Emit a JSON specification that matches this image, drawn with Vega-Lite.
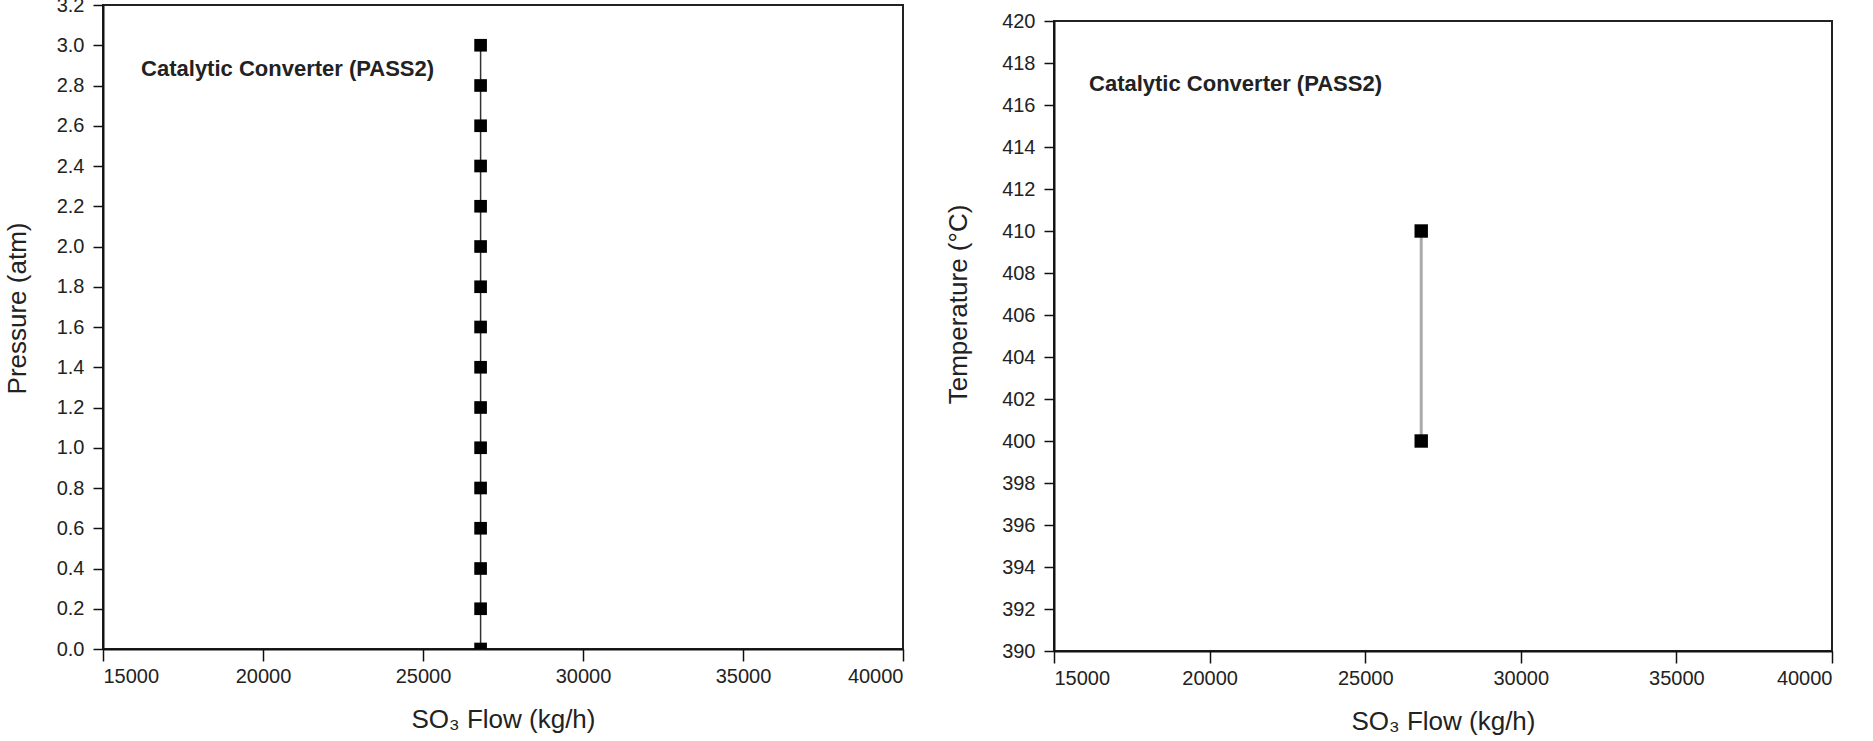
{
  "$schema": "https://vega.github.io/schema/vega-lite/v6.json",
  "background": "white",
  "padding": {"left": 3, "top": -6, "right": 5, "bottom": 5},
  "spacing": 39,
  "config": {
    "font": "Liberation Sans",
    "view": {"stroke": "#222", "strokeWidth": 2},
    "axis": {
      "grid": false,
      "domainColor": "#111",
      "domainWidth": 2,
      "tickColor": "#111",
      "tickWidth": 1.5,
      "labelFont": "Liberation Sans",
      "labelFontSize": 20,
      "labelColor": "#222",
      "titleFont": "Liberation Sans",
      "titleFontSize": 26,
      "titleFontWeight": "normal",
      "titleColor": "#222"
    },
    "axisX": {"tickSize": 12, "labelPadding": 5, "titlePadding": 20},
    "axisY": {"tickSize": 10, "labelPadding": 9}
  },
  "datasets": {
    "pressure": [
      {"flow": 26800, "p": 0.0},
      {"flow": 26800, "p": 0.2},
      {"flow": 26800, "p": 0.4},
      {"flow": 26800, "p": 0.6},
      {"flow": 26800, "p": 0.8},
      {"flow": 26800, "p": 1.0},
      {"flow": 26800, "p": 1.2},
      {"flow": 26800, "p": 1.4},
      {"flow": 26800, "p": 1.6},
      {"flow": 26800, "p": 1.8},
      {"flow": 26800, "p": 2.0},
      {"flow": 26800, "p": 2.2},
      {"flow": 26800, "p": 2.4},
      {"flow": 26800, "p": 2.6},
      {"flow": 26800, "p": 2.8},
      {"flow": 26800, "p": 3.0}
    ],
    "temperature": [
      {"flow": 26800, "t": 400},
      {"flow": 26800, "t": 410}
    ],
    "notes": [
      {"panel": "pressure", "x": 16190, "y": 2.88, "label": "Catalytic Converter (PASS2)"},
      {"panel": "temperature", "x": 16125, "y": 417, "label": "Catalytic Converter (PASS2)"}
    ]
  },
  "hconcat": [
    {
      "width": 800,
      "height": 644,
      "layer": [
        {
          "data": {"name": "pressure"},
          "mark": {"type": "line", "color": "#333", "strokeWidth": 1.5, "clip": true},
          "encoding": {
            "x": {
              "field": "flow", "type": "quantitative",
              "scale": {"domain": [15000, 40000], "nice": false, "zero": false},
              "axis": {"title": "SO₃ Flow (kg/h)", "values": [15000, 20000, 25000, 30000, 35000, 40000], "format": "d"}
            },
            "y": {
              "field": "p", "type": "quantitative", "sort": null,
              "scale": {"domain": [0, 3.2], "nice": false},
              "axis": {"title": "Pressure (atm)", "values": [0, 0.2, 0.4, 0.6, 0.8, 1.0, 1.2, 1.4, 1.6, 1.8, 2.0, 2.2, 2.4, 2.6, 2.8, 3.0, 3.2], "format": ".1f", "titlePadding": 26, "titleY": 303}
            }
          }
        },
        {
          "data": {"name": "pressure"},
          "mark": {"type": "square", "color": "#000", "filled": true, "opacity": 1, "size": 160, "clip": true},
          "encoding": {
            "x": {"field": "flow", "type": "quantitative"},
            "y": {"field": "p", "type": "quantitative"}
          }
        },
        {
          "data": {"name": "notes"},
          "transform": [{"filter": "datum.panel === 'pressure'"}],
          "mark": {"type": "text", "align": "left", "baseline": "middle", "fontWeight": "bold", "fontSize": 22, "color": "#222"},
          "encoding": {
            "x": {"field": "x", "type": "quantitative"},
            "y": {"field": "y", "type": "quantitative"},
            "text": {"field": "label"}
          }
        }
      ]
    },
    {
      "spacing": 4,
      "vconcat": [
        {
          "width": 778,
          "height": 1,
          "view": {"stroke": null},
          "data": {"values": []},
          "mark": {"type": "point", "opacity": 0}
        },
        {
          "width": 778,
          "height": 630,
          "layer": [
            {
              "data": {"name": "temperature"},
              "mark": {"type": "line", "color": "#aaa", "strokeWidth": 3},
              "encoding": {
                "x": {
                  "field": "flow", "type": "quantitative",
                  "scale": {"domain": [15000, 40000], "nice": false, "zero": false},
                  "axis": {"title": "SO₃ Flow (kg/h)", "values": [15000, 20000, 25000, 30000, 35000, 40000], "format": "d"}
                },
                "y": {
                  "field": "t", "type": "quantitative",
                  "scale": {"domain": [390, 420], "nice": false, "zero": false},
                  "axis": {"title": "Temperature (°C)", "values": [390, 392, 394, 396, 398, 400, 402, 404, 406, 408, 410, 412, 414, 416, 418, 420], "format": "d", "titlePadding": 30, "titleY": 283}
                }
              }
            },
            {
              "data": {"name": "temperature"},
              "mark": {"type": "square", "color": "#000", "filled": true, "opacity": 1, "size": 180},
              "encoding": {
                "x": {"field": "flow", "type": "quantitative"},
                "y": {"field": "t", "type": "quantitative"}
              }
            },
            {
              "data": {"name": "notes"},
              "transform": [{"filter": "datum.panel === 'temperature'"}],
              "mark": {"type": "text", "align": "left", "baseline": "middle", "fontWeight": "bold", "fontSize": 22, "color": "#222"},
              "encoding": {
                "x": {"field": "x", "type": "quantitative"},
                "y": {"field": "y", "type": "quantitative"},
                "text": {"field": "label"}
              }
            }
          ]
        }
      ]
    }
  ]
}
